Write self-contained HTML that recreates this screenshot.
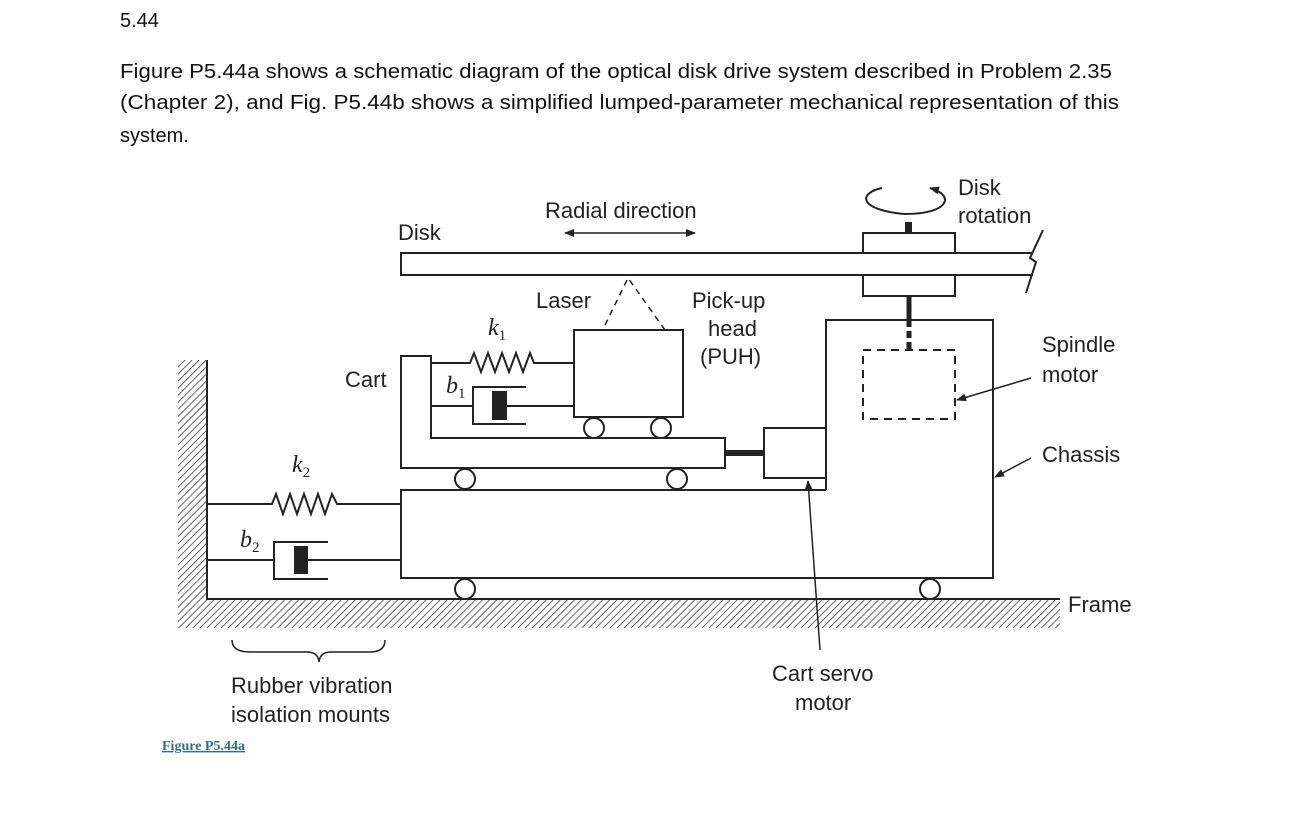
<!DOCTYPE html>
<html><head><meta charset="utf-8"><style>
html,body{margin:0;padding:0;background:#fff;}
svg{display:block;}
.t{font-family:"Liberation Sans",sans-serif;font-size:22px;fill:#222;}
.p{font-family:"Liberation Sans",sans-serif;font-size:20px;fill:#111;}
.i{font-family:"Liberation Serif",serif;font-style:italic;font-size:24px;fill:#222;}
</style></head><body>
<svg width="1314" height="835" viewBox="0 0 1314 835" xmlns="http://www.w3.org/2000/svg">
<defs>
<pattern id="h" width="5" height="5" patternUnits="userSpaceOnUse" patternTransform="rotate(45)">
<line x1="0" y1="0" x2="0" y2="5" stroke="#333" stroke-width="1.5"/>
</pattern>
<marker id="a" markerWidth="10" markerHeight="8" refX="9" refY="4" orient="auto" markerUnits="userSpaceOnUse">
<path d="M0,0 L10,4 L0,8 z" fill="#222"/>
</marker>
<marker id="a0" markerWidth="10" markerHeight="8" refX="1" refY="4" orient="auto" markerUnits="userSpaceOnUse">
<path d="M10,0 L0,4 L10,8 z" fill="#222"/>
</marker>
</defs>
<text class="p" x="120" y="27">5.44</text>
<text class="p" x="120" y="78" textLength="992" lengthAdjust="spacingAndGlyphs">Figure P5.44a shows a schematic diagram of the optical disk drive system described in Problem 2.35</text>
<text class="p" x="120" y="109" textLength="999" lengthAdjust="spacingAndGlyphs">(Chapter 2), and Fig. P5.44b shows a simplified lumped-parameter mechanical representation of this</text>
<text class="p" x="120" y="142">system.</text>

<g stroke="#222" stroke-width="2" fill="none">
<rect x="178" y="360" width="29" height="268" fill="url(#h)" stroke="none"/>
<rect x="207" y="599" width="853" height="29" fill="url(#h)" stroke="none"/>
<polyline points="207,360 207,599 1060,599"/>
<!-- disk -->
<polyline points="1033,253 401,253 401,275 1033,275"/>
<polyline points="1043,230 1030,258 1036,262 1026,293"/>
<rect x="863" y="233" width="92" height="20"/>
<rect x="863" y="275" width="92" height="21"/>
<rect x="906" y="223" width="5" height="10" fill="#222"/>
<line x1="909" y1="296" x2="909" y2="320" stroke-width="5"/>
<line x1="909" y1="320" x2="909" y2="350" stroke-width="5" stroke-dasharray="7,4"/>
<rect x="863" y="350" width="92" height="69" stroke-dasharray="8,6"/>
<!-- rotation -->
<path d="M882,188 C858,193 858,210 905,214 C950,214 955,195 930,188" marker-end="url(#a)"/>
<!-- radial -->
<line x1="565" y1="233" x2="695" y2="233" stroke-width="1.5" marker-start="url(#a0)" marker-end="url(#a)"/>
<!-- laser -->
<polyline points="605,325 628,278 665,330" stroke-width="1.5" stroke-dasharray="6,5"/>
<!-- PUH -->
<rect x="574" y="330" width="109" height="87"/>
<circle cx="594" cy="428" r="10"/>
<circle cx="661" cy="428" r="10"/>
<!-- cart -->
<polygon points="401,356 431,356 431,438 725,438 725,468 401,468"/>
<circle cx="465" cy="479" r="10"/>
<circle cx="677" cy="479" r="10"/>
<polyline points="431,363 470,363 474,353 481,372 488,353 495,372 502,353 509,372 516,353 523,372 530,353 534,363 574,363"/>
<line x1="431" y1="406" x2="473" y2="406"/>
<polyline points="526,387 473,387 473,424 526,424"/>
<rect x="493" y="392" width="13" height="27" fill="#222"/>
<line x1="506" y1="406" x2="574" y2="406"/>
<line x1="725" y1="453" x2="764" y2="453" stroke-width="6"/>
<rect x="764" y="428" width="62" height="50"/>
<polyline points="826,490 401,490 401,578 993,578 993,320 826,320 826,490"/>
<circle cx="465" cy="589" r="10"/>
<circle cx="930" cy="589" r="10"/>
<polyline points="207,504 272,504 276,494 283,514 290,494 297,514 304,494 311,514 318,494 325,514 332,494 337,504 401,504"/>
<line x1="207" y1="560" x2="274" y2="560"/>
<polyline points="328,542 274,542 274,579 328,579"/>
<rect x="295" y="547" width="12" height="26" fill="#222"/>
<line x1="307" y1="560" x2="401" y2="560"/>
<line x1="1031" y1="378" x2="957" y2="400" stroke-width="1.5" marker-end="url(#a)"/>
<line x1="1031" y1="458" x2="995" y2="477" stroke-width="1.5" marker-end="url(#a)"/>
<line x1="820" y1="650" x2="808" y2="481" stroke-width="1.5" marker-end="url(#a)"/>
</g>
<path d="M232,640 Q232,652 250,652 L307,652 Q318,652 319,662 Q320,652 331,652 L370,652 Q385,652 385,640" stroke="#222" stroke-width="1.5" fill="none"/>

<text class="t" x="545" y="218">Radial direction</text>
<text class="t" x="398" y="240">Disk</text>
<text class="t" x="958" y="195">Disk</text>
<text class="t" x="958" y="223">rotation</text>
<text class="t" x="536" y="308">Laser</text>
<text class="t" x="692" y="308">Pick-up</text>
<text class="t" x="708" y="336">head</text>
<text class="t" x="700" y="364">(PUH)</text>
<text class="t" x="345" y="387">Cart</text>
<text class="i" x="488" y="335">k<tspan font-size="15" dy="5" font-style="normal">1</tspan></text>
<text class="i" x="446" y="393">b<tspan font-size="15" dy="5" font-style="normal">1</tspan></text>
<text class="i" x="292" y="472">k<tspan font-size="15" dy="5" font-style="normal">2</tspan></text>
<text class="i" x="240" y="547">b<tspan font-size="15" dy="5" font-style="normal">2</tspan></text>
<text class="t" x="1042" y="352">Spindle</text>
<text class="t" x="1042" y="382">motor</text>
<text class="t" x="1042" y="462">Chassis</text>
<text class="t" x="1068" y="612">Frame</text>
<text class="t" x="772" y="681">Cart servo</text>
<text class="t" x="795" y="710">motor</text>
<text class="t" x="231" y="693">Rubber vibration</text>
<text class="t" x="231" y="722">isolation mounts</text>
<text x="162" y="750" font-family="Liberation Serif,serif" font-size="14" font-weight="bold" fill="#2e6f8e" text-decoration="underline">Figure P5.44a</text>
</svg>
</body></html>
